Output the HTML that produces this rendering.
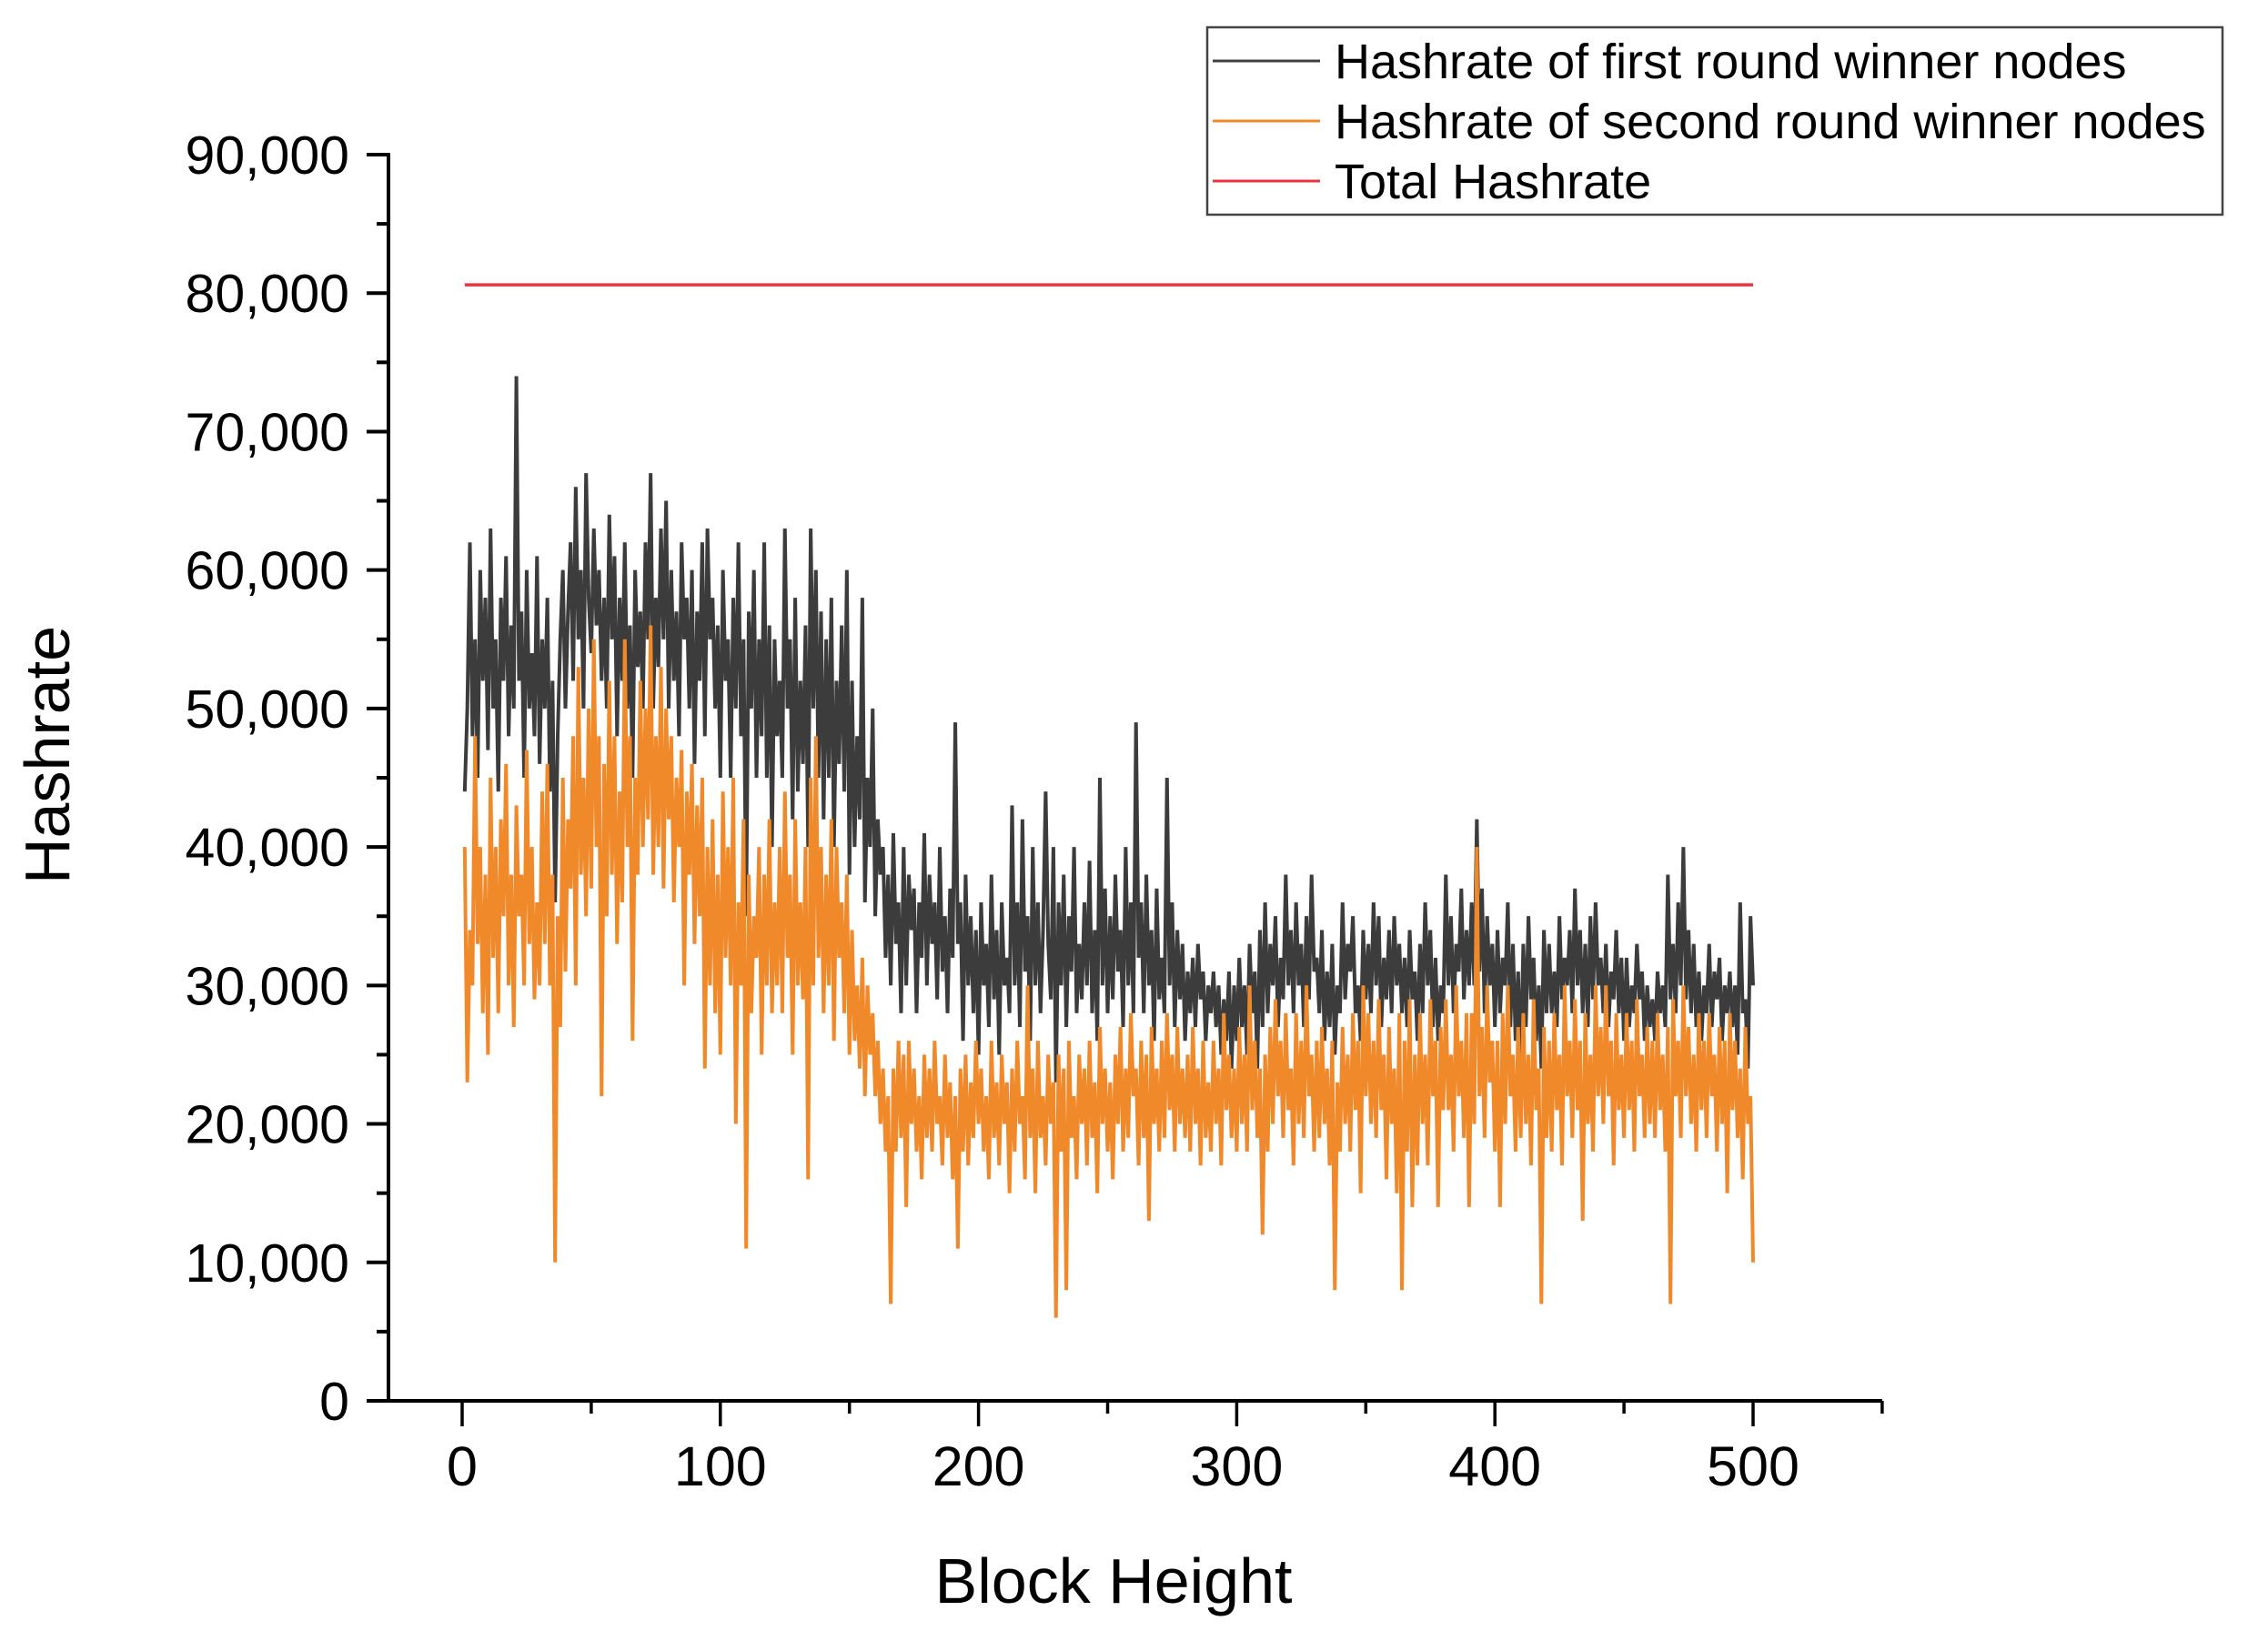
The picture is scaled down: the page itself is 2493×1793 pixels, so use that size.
<!DOCTYPE html>
<html><head><meta charset="utf-8"><style>
html,body{margin:0;padding:0;background:#fff;}
svg{display:block;font-family:"Liberation Sans",Arial,sans-serif;}
</style></head><body>
<svg id="chart" width="2493" height="1793" viewBox="0 0 2493 1793" xmlns="http://www.w3.org/2000/svg">
<rect width="2493" height="1793" fill="#fff"/>
<g id="plot"></g>
<g id="axes"></g>
<g id="legend">
<rect x="1327" y="30" width="1116" height="206" fill="#fff" stroke="#444" stroke-width="2.5"/>
<line x1="1333" y1="67" x2="1451" y2="67" stroke="#404040" stroke-width="3"/>
<text x="1467" y="86" font-size="54" fill="#000">Hashrate of first round winner nodes</text>
<line x1="1333" y1="133" x2="1451" y2="133" stroke="#f0892a" stroke-width="3"/>
<text x="1467" y="152" font-size="54" fill="#000">Hashrate of second round winner nodes</text>
<line x1="1333" y1="199" x2="1451" y2="199" stroke="#ee3340" stroke-width="3"/>
<text x="1467" y="218" font-size="54" fill="#000">Total Hashrate</text>
</g>
<text x="1224" y="1762" font-size="70" text-anchor="middle" fill="#000">Block Height</text>
<text x="0" y="0" font-size="70" text-anchor="middle" fill="#000" transform="translate(76,830) rotate(-90)">Hashrate</text>
</svg>
<script>
const xTicks = [0,100,200,300,400,500];
const yTicks = [0,10000,20000,30000,40000,50000,60000,70000,80000,90000];
const yTickLabels = ["0","10,000","20,000","30,000","40,000","50,000","60,000","70,000","80,000","90,000"];
const totalHashrate = 80600;
const firstRound = [
44,50,62,48,55,45,60,52,58,47,
63,50,55,44,58,52,61,48,56,50,
74,52,57,45,60,50,54,48,61,46,
55,50,58,44,52,36,48,55,60,50,
57,62,52,66,55,60,50,67,58,54,
63,56,60,52,58,50,64,55,61,48,
58,52,62,50,56,45,60,53,57,50,
62,55,67,50,58,53,63,55,65,50,
60,52,57,48,62,55,58,50,60,46,
57,52,62,48,63,55,58,50,56,45,
60,52,55,45,58,50,62,48,55,35,
57,50,60,45,55,48,62,45,56,40,
55,48,52,45,63,50,55,42,58,44,
52,46,56,40,63,50,60,45,57,42,
55,45,58,40,52,46,56,44,60,38,
52,40,48,42,58,36,45,40,50,35,
42,38,40,32,38,30,41,33,36,28,
40,30,38,34,37,28,36,32,41,30,
38,33,36,29,40,31,35,28,37,32,
49,33,36,26,38,30,35,28,34,25,
36,30,33,27,38,29,34,25,36,30,
32,28,43,30,36,27,42,31,35,26,
40,30,36,28,34,44,33,29,40,23,
36,30,38,27,35,31,40,28,33,29,
36,30,39,28,34,26,45,30,37,28,
35,29,38,31,34,27,40,30,36,28,
49,32,36,28,38,30,34,26,37,29,
32,28,45,30,36,27,34,29,33,26,
31,28,32,27,33,29,31,26,30,28,
31,27,30,25,29,26,31,24,30,26,
32,27,30,25,33,28,31,24,34,27,
36,28,33,30,35,27,32,29,38,30,
34,28,36,30,33,27,35,29,38,31,
32,28,34,26,31,27,33,25,30,28,
36,29,33,31,35,28,30,26,34,29,
33,28,36,30,35,27,32,29,34,28,
35,30,33,28,32,27,34,29,31,26,
33,28,36,30,34,27,32,26,30,28,
38,30,35,28,33,31,37,29,34,30,
36,30,42,31,37,28,35,30,33,27,
34,28,32,30,36,27,33,26,31,24,
33,27,35,29,32,26,30,24,34,28,
33,28,31,27,35,29,32,30,34,28,
37,30,34,28,33,27,35,29,36,30,
32,28,33,27,31,29,34,28,32,26,
32,27,30,28,33,29,31,26,30,27,
29,26,31,28,30,27,38,29,33,28,
36,30,40,29,34,28,33,27,31,26,
30,28,33,27,31,29,32,26,30,28,
31,27,30,25,36,28,29,24,35,30];
const secondRound = [
40,23,34,30,48,33,40,28,38,25,
45,32,40,28,42,35,46,30,38,27,
43,35,38,30,47,33,40,29,36,30,
44,33,46,30,38,10,35,27,45,31,
42,37,48,30,53,38,45,35,50,37,
55,40,48,22,46,35,52,38,48,33,
44,36,55,40,48,26,45,38,52,40,
50,42,56,38,48,40,53,37,50,42,
48,36,45,40,47,30,44,38,46,33,
43,35,45,24,40,30,42,28,38,25,
44,32,40,30,45,20,36,30,42,11,
38,28,35,32,40,25,38,30,42,28,
36,30,40,28,44,32,38,25,42,30,
36,29,40,16,45,30,48,32,40,28,
38,30,42,26,40,32,36,28,38,25,
34,26,30,24,32,22,30,25,28,22,
26,20,24,18,22,7,24,18,26,19,
25,14,26,20,24,18,22,16,25,19,
24,18,26,20,22,17,25,19,23,16,
22,11,24,18,25,17,23,19,26,20,
24,18,22,16,26,19,23,17,25,20,
23,15,24,18,26,20,22,16,30,19,
24,15,26,19,22,17,25,20,23,6,
25,18,24,8,26,19,22,16,25,20,
24,17,26,19,23,15,27,20,24,18,
23,16,25,20,27,18,24,19,28,22,
24,17,26,19,25,13,27,20,24,18,
26,19,28,21,25,18,27,20,24,19,
25,18,27,20,24,17,26,19,23,18,
26,20,24,17,28,21,25,19,24,18,
27,20,25,18,30,21,26,19,24,12,
25,18,27,20,29,22,26,19,28,21,
24,17,28,20,26,19,30,22,25,18,
26,19,27,20,24,17,26,8,23,18,
27,20,25,18,28,21,26,15,30,22,
28,20,26,19,29,21,25,16,27,20,
24,15,28,8,26,18,29,14,25,17,
28,20,25,17,29,22,26,14,27,21,
29,21,25,18,30,22,26,19,28,14,
28,20,40,22,27,19,30,23,26,18,
26,14,28,20,30,22,25,18,27,19,
28,20,25,17,29,21,24,7,27,19,
26,18,28,21,25,17,30,22,26,19,
29,21,26,13,28,20,25,18,30,22,
27,20,30,22,26,17,28,21,25,19,
28,21,26,18,29,22,25,19,27,20,
26,19,28,21,25,18,27,7,29,22,
26,19,30,22,27,20,25,18,28,21,
26,19,28,22,25,18,27,20,26,15,
28,21,26,19,24,16,27,20,22,10];

const NS = "http://www.w3.org/2000/svg";
const X0 = 508, X500 = 1927, Y0 = 1540, Y90 = 170;
function xs(v){ return X0 + (X500 - X0) * v / 500; }
function ys(v){ return Y0 - (Y0 - Y90) * v / 90000; }
function mk(tag, attrs, parent){
  const el = document.createElementNS(NS, tag);
  for (const k in attrs) el.setAttribute(k, attrs[k]);
  parent.appendChild(el);
  return el;
}
const plot = document.getElementById('plot');
const axes = document.getElementById('axes');

function series(arr, color, name){
  let d = '';
  arr.forEach((v, i) => { d += (i ? 'L' : 'M') + xs(i + 1).toFixed(2) + ' ' + ys(v * 1000).toFixed(2); });
  const p = mk('path', {d: d, fill: 'none', stroke: color, 'stroke-width': 4, 'stroke-linejoin': 'miter'}, plot);
  
  
}
series(firstRound, '#3c3c3c', 'first-round-hashrate-line');
series(secondRound, '#f0892a', 'second-round-hashrate-line');
const red = mk('line', {x1: xs(1), x2: xs(500), y1: ys(totalHashrate), y2: ys(totalHashrate), stroke: '#ee3340', 'stroke-width': 3.5}, plot);



const yAxis = mk('line', {x1: 427, x2: 427, y1: Y90 - 2, y2: Y0 + 2, stroke: '#000', 'stroke-width': 4}, axes);


const xAxis = mk('line', {x1: 425, x2: xs(550), y1: Y0, y2: Y0, stroke: '#000', 'stroke-width': 4}, axes);



yTicks.forEach((v, i) => {
  const y = ys(v);
  const t = mk('line', {x1: 403, x2: 427, y1: y, y2: y, stroke: '#000', 'stroke-width': 4}, axes);
  
  
  if (i < yTicks.length - 1) {
    const ym = ys(v + 5000);
    const m = mk('line', {x1: 414, x2: 427, y1: ym, y2: ym, stroke: '#000', 'stroke-width': 4}, axes);
    
    
  }
  const lb = mk('text', {x: 384, y: y + 21, 'font-size': 59, 'text-anchor': 'end', fill: '#000'}, axes);
  lb.textContent = yTickLabels[i];
  
  
});
xTicks.forEach((v) => {
  const x = xs(v);
  const t = mk('line', {x1: x, x2: x, y1: Y0, y2: Y0 + 28, stroke: '#000', 'stroke-width': 3.5}, axes);
  
  
  const xm = xs(v + 50);
  const m = mk('line', {x1: xm, x2: xm, y1: Y0, y2: Y0 + 14, stroke: '#000', 'stroke-width': 3.5}, axes);
  
  
  const lb = mk('text', {x: x, y: 1633, 'font-size': 61, 'text-anchor': 'middle', fill: '#000'}, axes);
  lb.textContent = String(v);
  
  
});
</script>
</body></html>
